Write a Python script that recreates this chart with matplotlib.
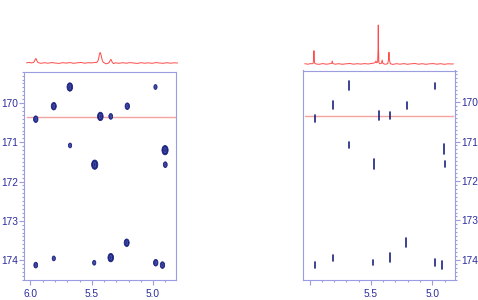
import matplotlib
matplotlib.use("Agg")
import matplotlib.pyplot as plt
from matplotlib.patches import Ellipse
from matplotlib.ticker import MultipleLocator, FixedLocator, FixedFormatter

plt.rcParams['font.family'] = ['Liberation Sans', 'DejaVu Sans']

# ---------------- data ----------------
# cross peaks (1H ppm, 13C ppm) and relative intensity
peak_h = [5.679, 4.980, 5.810, 5.210, 5.957, 5.430, 5.345, 5.677, 4.902,
          5.476, 4.900, 5.215, 5.957, 5.810, 5.480, 5.345, 4.978, 4.923]
peak_c = [169.59, 169.59, 170.08, 170.08, 170.41, 170.34, 170.34, 171.08, 171.20,
          171.57, 171.57, 173.56, 174.13, 173.96, 174.07, 173.94, 174.07, 174.13]
peak_int = [3.0, 1.0, 2.5, 2.0, 2.0, 3.0, 1.5, 1.0, 3.5,
            3.5, 1.5, 2.5, 1.5, 1.0, 1.0, 3.0, 2.0, 2.0]

ref_c = 170.35  # horizontal cursor line

# 1D projection traces (ppm, intensity)
left_spec_ppm = [6.033, 6.015, 5.995, 5.982, 5.975, 5.968, 5.962, 5.959, 5.955, 5.950,
                 5.944, 5.935, 5.915, 5.890, 5.860, 5.830, 5.800, 5.770, 5.740, 5.710,
                 5.680, 5.650, 5.620, 5.590, 5.560, 5.530, 5.500, 5.480, 5.465, 5.455,
                 5.447, 5.440, 5.435, 5.430, 5.424, 5.417, 5.410, 5.400, 5.385, 5.370,
                 5.360, 5.353, 5.347, 5.341, 5.335, 5.325, 5.310, 5.280, 5.250, 5.220,
                 5.190, 5.160, 5.130, 5.100, 5.070, 5.040, 5.010, 4.980, 4.950, 4.920,
                 4.890, 4.860, 4.830, 4.804]
left_spec_int = [0.2, 0.6, 0.1, 0.4, 0.8, 2.2, 4.0, 4.4, 4.0, 2.4,
                 0.9, 0.2, -0.3, 0.3, -0.2, 0.4, 0.0, -0.4, 0.3, -0.1,
                 0.4, -0.3, 0.2, 0.5, -0.2, 0.3, 0.1, 0.6, 0.4, 1.3,
                 4.0, 8.6, 10.4, 9.8, 6.6, 2.8, 1.0, 0.1, -0.8, -0.3,
                 0.5, 2.3, 3.7, 2.5, 0.6, -0.6, 0.2, -0.3, 0.3, -0.2,
                 0.4, 0.0, -0.4, 0.3, -0.2, 0.2, -0.3, 0.4, 0.0, -0.3,
                 0.3, -0.2, 0.2, 0.0]

right_spec_ppm = [6.035, 6.010, 5.990, 5.975, 5.968, 5.964, 5.962, 5.960, 5.956, 5.948,
                  5.920, 5.890, 5.860, 5.830, 5.818, 5.813, 5.808, 5.790, 5.760, 5.730,
                  5.700, 5.670, 5.640, 5.610, 5.580, 5.550, 5.520, 5.495, 5.475, 5.462,
                  5.457, 5.450, 5.443, 5.440, 5.438, 5.436, 5.433, 5.425, 5.412, 5.406,
                  5.400, 5.380, 5.360, 5.355, 5.351, 5.347, 5.340, 5.320, 5.290, 5.260,
                  5.230, 5.200, 5.170, 5.140, 5.110, 5.080, 5.050, 5.020, 4.990, 4.960,
                  4.930, 4.900, 4.870, 4.840, 4.827]
right_spec_int = [0.3, -0.2, 0.4, 0.2, 0.8, 6.0, 13.3, 6.5, 0.9, 0.1,
                  -0.3, 0.4, -0.2, 0.3, 0.6, 3.0, 0.5, -0.2, 0.3, -0.3,
                  0.2, 0.5, -0.2, 0.3, -0.1, 0.4, 0.0, 0.5, 0.9, 1.5,
                  3.0, 1.2, 2.0, 14.0, 39.0, 15.0, 1.5, 0.2, 0.8, 4.0,
                  0.5, -0.3, 0.4, 4.5, 11.7, 4.0, 0.3, -0.4, 0.3, -0.2,
                  0.4, -0.3, 0.2, 0.5, -0.2, 0.3, -0.3, 0.2, 0.4, -0.2,
                  0.3, -0.3, 0.2, 0.0, 0.1]

x_major = [6.0, 5.5, 5.0]
left_xlabels = ['6.0', '5.5', '5.0']
right_xlabels = ['', '5.5', '5.0']
y_major = [170, 171, 172, 173, 174]

# ---------------- style ----------------
W, H = 478, 300
SPINE = '#9c9ce0'
LABEL = '#2c2c9c'
NAVY = '#1c237f'
NAVY_IN = '#4a55b0'
RED = '#ff4a4a'
REF = '#f3a3a0'
FS = 7.3

PX_PER_PPM_X = 122.6
PX_PER_PPM_Y = 39.4


def rect(x0, y0, x1, y1):
    return [x0 / W, 1 - y1 / H, (x1 - x0) / W, (y1 - y0) / H]


fig = plt.figure(figsize=(W / 100, H / 100), dpi=100)


def style_main(ax, side):
    for s in ax.spines.values():
        s.set_color(SPINE)
        s.set_linewidth(0.8)
    ax.set_xlim(6.053, 4.815)
    ax.set_ylim(174.51, 169.20)
    ax.xaxis.set_major_locator(FixedLocator(x_major))
    ax.xaxis.set_minor_locator(MultipleLocator(0.1))
    ax.yaxis.set_major_locator(FixedLocator(y_major))
    ax.yaxis.set_minor_locator(MultipleLocator(0.1))
    ax.tick_params(which='both', direction='out', color=SPINE, width=0.8,
                   labelcolor=LABEL, labelsize=FS)
    ax.tick_params(which='major', length=3.6)
    ax.tick_params(which='minor', length=1.6)
    ax.tick_params(axis='x', pad=3.0)
    ax.tick_params(axis='y', pad=0.8)
    if side == 'right':
        ax.yaxis.tick_right()
        ax.xaxis.set_major_formatter(FixedFormatter(right_xlabels))
    else:
        ax.xaxis.set_major_formatter(FixedFormatter(left_xlabels))
    ax.set_yticklabels([str(v) for v in y_major])


def style_top(ax, xlim, ylim):
    ax.set_xlim(*xlim)
    ax.set_ylim(*ylim)
    ax.axis('off')


# left panel
axL = fig.add_axes(rect(24, 71.7, 175.7, 280))
style_main(axL, 'left')
axL.plot([6.03, 4.82], [ref_c, ref_c], color=REF, lw=1.0, zorder=1)
for h, c, i in zip(peak_h, peak_c, peak_int):
    w_px = 2.0 + 1.2 * i
    h_px = 3.0 + 1.8 * i
    axL.add_patch(Ellipse((h, c), w_px / PX_PER_PPM_X, h_px / PX_PER_PPM_Y,
                          facecolor=NAVY, edgecolor=NAVY, lw=0.6, zorder=3))
    axL.add_patch(Ellipse((h, c), 0.35 * w_px / PX_PER_PPM_X, 0.55 * h_px / PX_PER_PPM_Y,
                          facecolor='none', edgecolor=NAVY_IN, lw=0.6, zorder=4))

# right panel
axR = fig.add_axes(rect(303, 70.5, 455, 280))
style_main(axR, 'right')
axR.plot([6.035, 4.832], [ref_c, ref_c], color=REF, lw=1.0, zorder=1)
for h, c, i in zip(peak_h, peak_c, peak_int):
    l_px = 4.0 + 1.7 * i
    d = l_px / PX_PER_PPM_Y / 2
    axR.plot([h, h], [c - d, c + d], color=NAVY, lw=1.2, solid_capstyle='round', zorder=3)

# projections
axLT = fig.add_axes(rect(24, 15, 177.5, 68))
style_top(axLT, (6.055, 4.803), (-5, 48))
axLT.plot(left_spec_ppm, left_spec_int, color=RED, lw=0.7)

axRT = fig.add_axes(rect(303, 15, 456, 68))
style_top(axRT, (6.051, 4.805), (-4, 49))
axRT.plot(right_spec_ppm, right_spec_int, color=RED, lw=0.7)

fig.savefig('out.png', dpi=100)
